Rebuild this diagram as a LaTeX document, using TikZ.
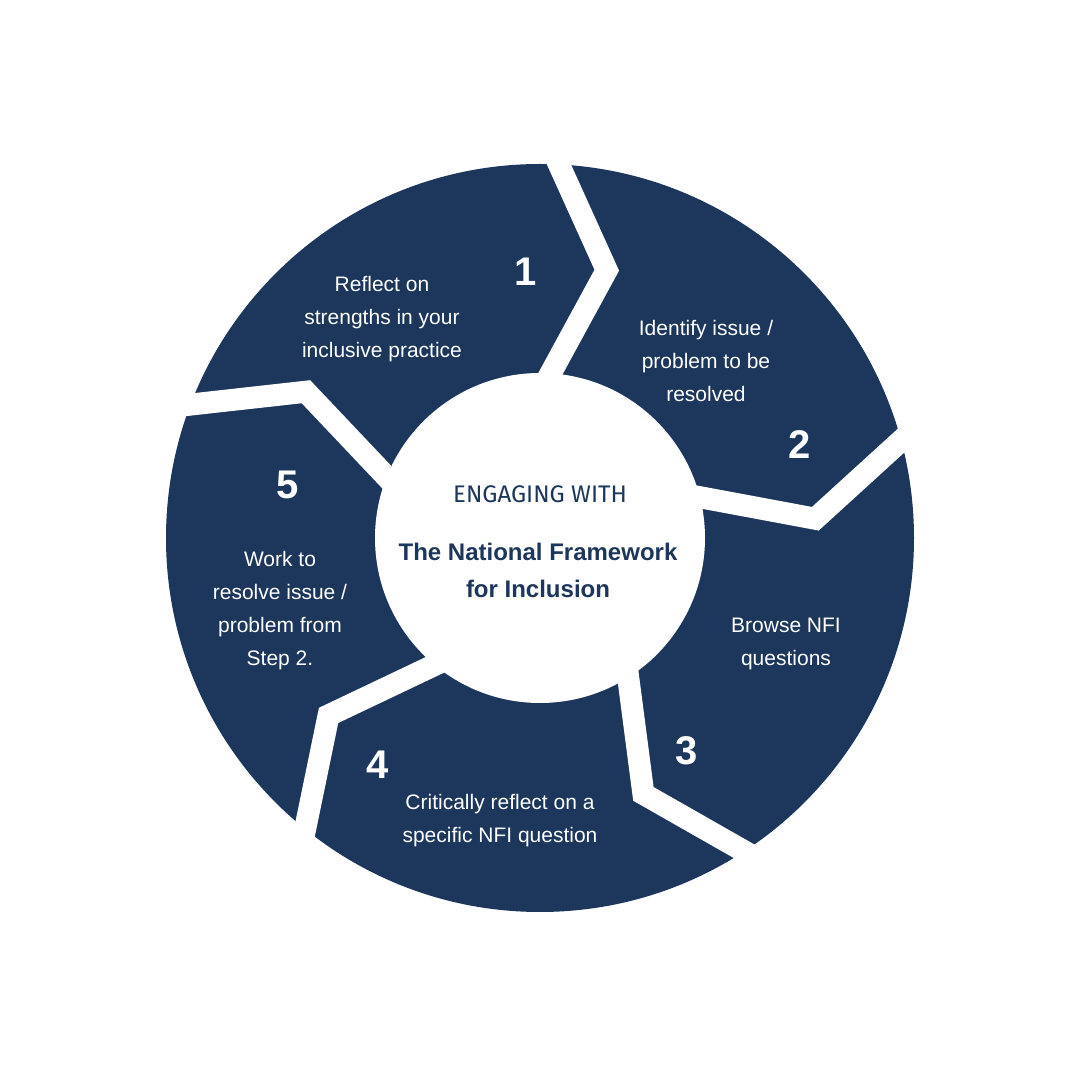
\documentclass[tikz,border=0pt]{standalone}
\usepackage{fontspec}
\usetikzlibrary{calc}
\setmainfont{Liberation Sans}
\newfontfamily\titlefont{Fira Sans}
\definecolor{navy}{HTML}{1C365C}
\begin{document}
\begin{tikzpicture}[x=1pt,y=1pt,
  lbl/.style={text=white,align=center,font=\fontsize{21}{33}\selectfont},
  num/.style={text=white,font=\fontsize{40}{40}\selectfont\bfseries},
  gap/.style={white,line width=22pt,miter limit=20,line join=miter}]
\useasboundingbox[fill=white] (0,0) rectangle (1080,1080);
\coordinate (c) at (540,542);
\fill[navy] (c) circle (374);
\foreach \t in {89,17,-55,-127,161}{
  \draw[gap] ($(c)+(\t:400)$) -- ($(c)+(\t-13:276)$) -- ($(c)+(\t:150)$);
}
\fill[white] (c) circle (165);
\node[lbl] (t1) at (382,761) {Reflect on\\strengths in your\\inclusive practice};
\node[num] (n1) at (526,808) {1};
\node[lbl] (t2) at (706,719) {Identify issue /\\problem to be\\resolved};
\node[num] (n2) at (800,635) {2};
\node[lbl] (t3) at (786,436) {Browse NFI\\questions};
\node[num] (n3) at (687,329) {3};
\node[num] (n4) at (378,315) {4};
\node[lbl] (t4) at (500,259) {Critically reflect on a\\specific NFI question};
\node[num] (n5) at (288,595) {5};
\node[lbl] (t5) at (280,469) {Work to\\resolve issue /\\problem from\\Step 2.};
\node[text=navy,font=\titlefont\fontsize{24}{24}\selectfont] (eng) at (540,586) {ENGAGING WITH};
\node[text=navy,align=center,font=\fontsize{24}{37}\selectfont\bfseries] (nfi) at (538,510) {The National Framework\\for Inclusion};
\end{tikzpicture}
\end{document}
